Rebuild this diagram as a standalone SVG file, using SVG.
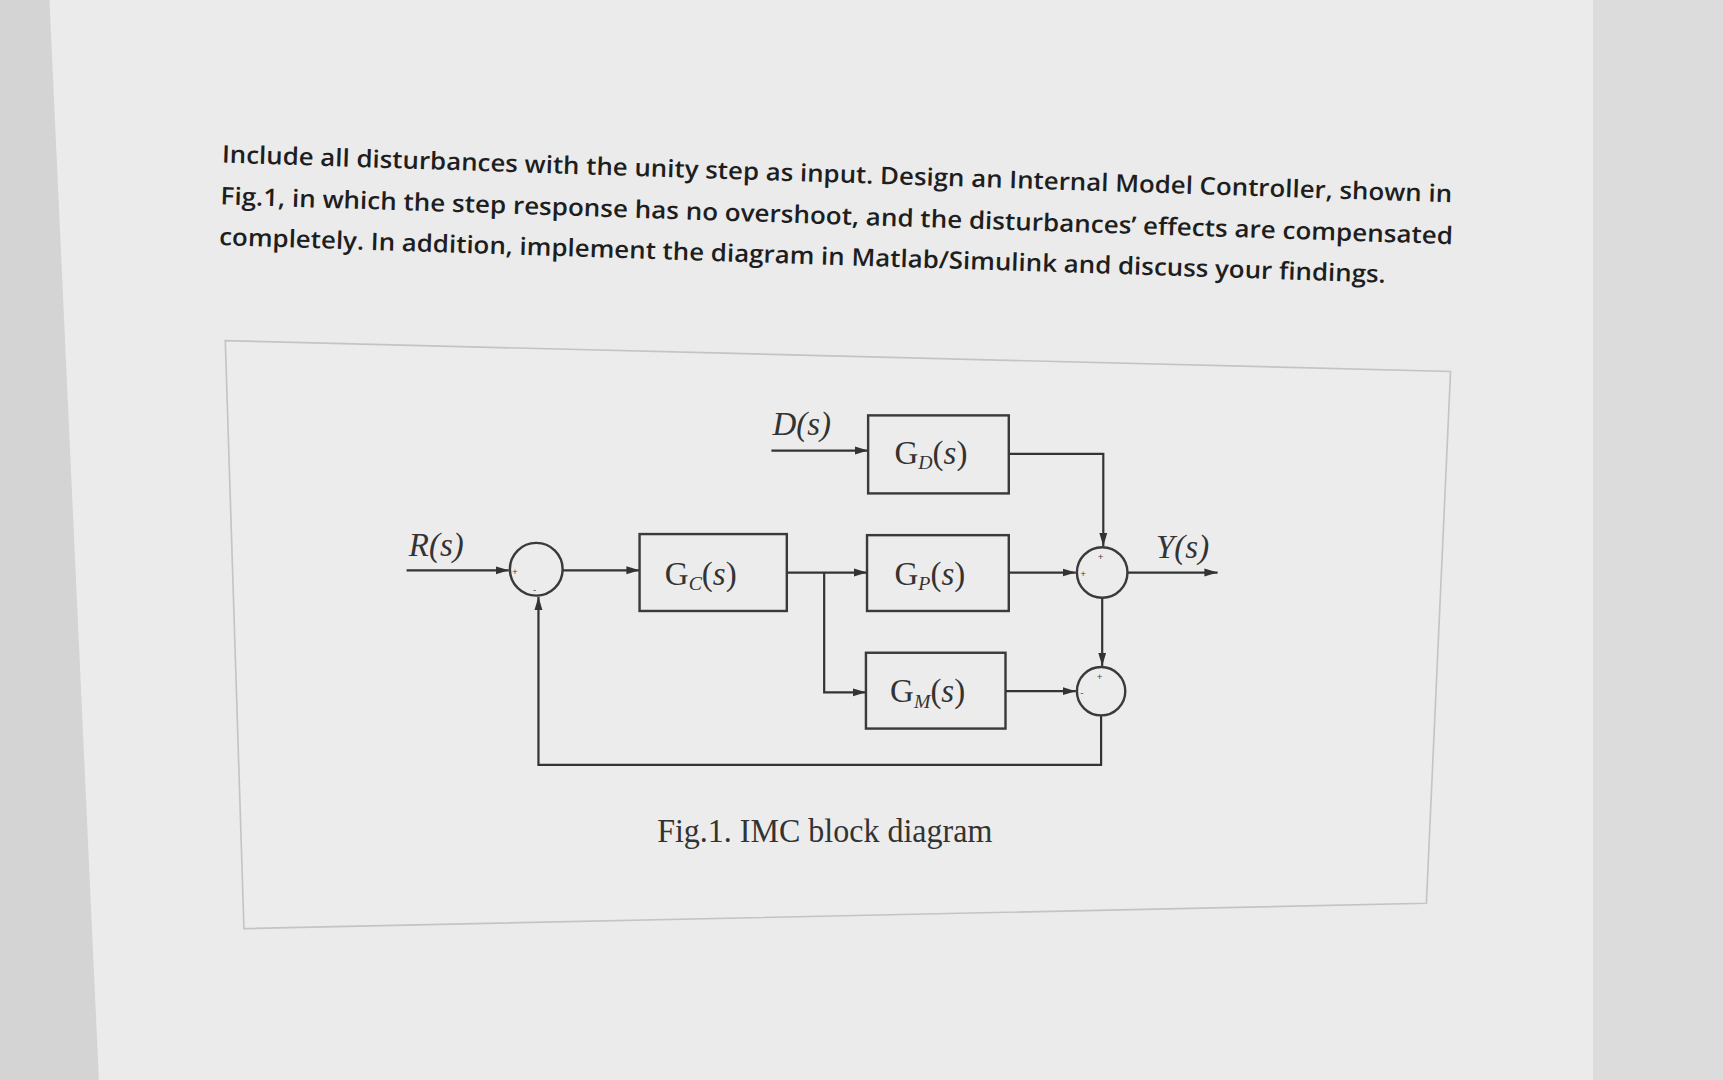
<svg xmlns="http://www.w3.org/2000/svg" width="1723" height="1080" viewBox="0 0 1723 1080">
<defs>
<marker id="a" viewBox="0 0 10 10" refX="10" refY="5" markerWidth="6" markerHeight="6" orient="auto"><path d="M0,2 L10,5 L0,8 z" fill="#333"/></marker>
<style>
.b{fill:none;stroke:#3a3a3a;stroke-width:2.2}
.c{fill:none;stroke:#333;stroke-width:2}
.t{font-family:"Liberation Serif",serif;fill:#333;font-size:30px}
.i{font-style:italic}
.p{font-family:"Open Sans","Liberation Sans",sans-serif;fill:#1e1e1e;font-size:22px;font-weight:600}
.s{font-family:"Liberation Sans",sans-serif;fill:#444;font-size:9px}
</style>
</defs>
<rect width="1723" height="1080" fill="#d4d4d4"/>
<g transform="scale(1.0989)">
<polygon points="45,0 1450,0 1450,983 90,983" fill="#ebebeb"/>
<rect x="1450" y="0" width="118" height="983" fill="#dcdcdc"/>
<polygon points="205,310 1320,338 1298,822 222,845" fill="#ececec" stroke="#c4c4c4" stroke-width="1.5"/>
<g transform="rotate(1.85 202 140)">
<text class="p" x="202" y="148" textLength="1120" lengthAdjust="spacingAndGlyphs">Include all disturbances with the unity step as input. Design an Internal Model Controller, shown in</text>
<text class="p" x="202" y="186" textLength="1122" lengthAdjust="spacingAndGlyphs">Fig.1, in which the step response has no overshoot, and the disturbances’ effects are compensated</text>
<text class="p" x="202" y="223" textLength="1062" lengthAdjust="spacingAndGlyphs">completely. In addition, implement the diagram in Matlab/Simulink and discuss your findings.</text>
</g>
<g id="connectors">
<path class="c" d="M370,519 H463" marker-end="url(#a)"/>
<path class="c" d="M512,519 H582" marker-end="url(#a)"/>
<path class="c" d="M716,521 H789" marker-end="url(#a)"/>
<path class="c" d="M750,521 V630 H788" marker-end="url(#a)"/>
<path class="c" d="M702,410 H790" marker-end="url(#a)"/>
<path class="c" d="M918,413 H1004 V497" marker-end="url(#a)"/>
<path class="c" d="M918,521 H979" marker-end="url(#a)"/>
<path class="c" d="M1026,521 H1108" marker-end="url(#a)"/>
<path class="c" d="M1003,544 V606" marker-end="url(#a)"/>
<path class="c" d="M915,629 H979" marker-end="url(#a)"/>
<path class="c" d="M1002,651 V696 H490 V543" marker-end="url(#a)"/>
</g>
<g id="sum1"><circle class="b" cx="488" cy="518" r="24"/><text class="s" x="466" y="523">+</text><text class="s" x="485" y="540">-</text></g>
<g id="sum2"><circle class="b" cx="1003" cy="521" r="23"/><text class="s" x="999" y="510">+</text><text class="s" x="983" y="525">+</text></g>
<g id="sum3"><circle class="b" cx="1002" cy="629" r="22"/><text class="s" x="998" y="619">+</text><text class="s" x="983" y="633">-</text></g>
<g id="gc"><rect class="b" x="582" y="486" width="134" height="70"/><text class="t" x="605" y="532">G<tspan class="i" font-size="18" dy="5">C</tspan><tspan dy="-5">(<tspan class="i">s</tspan>)</tspan></text></g>
<g id="gd"><rect class="b" x="790" y="378" width="128" height="71"/><text class="t" x="814" y="422">G<tspan class="i" font-size="18" dy="5">D</tspan><tspan dy="-5">(<tspan class="i">s</tspan>)</tspan></text></g>
<g id="gp"><rect class="b" x="789" y="487" width="129" height="69"/><text class="t" x="814" y="532">G<tspan class="i" font-size="18" dy="5">P</tspan><tspan dy="-5">(<tspan class="i">s</tspan>)</tspan></text></g>
<g id="gm"><rect class="b" x="788" y="594" width="127" height="69"/><text class="t" x="810" y="639">G<tspan class="i" font-size="18" dy="5">M</tspan><tspan dy="-5">(<tspan class="i">s</tspan>)</tspan></text></g>
<text class="t i" x="372" y="506">R(s)</text>
<text class="t i" x="703" y="396">D(s)</text>
<text class="t i" x="1052" y="508">Y(s)</text>
<text class="t" x="598" y="766" font-size="27" textLength="305" lengthAdjust="spacingAndGlyphs">Fig.1. IMC block diagram</text>
</g>
</svg>
